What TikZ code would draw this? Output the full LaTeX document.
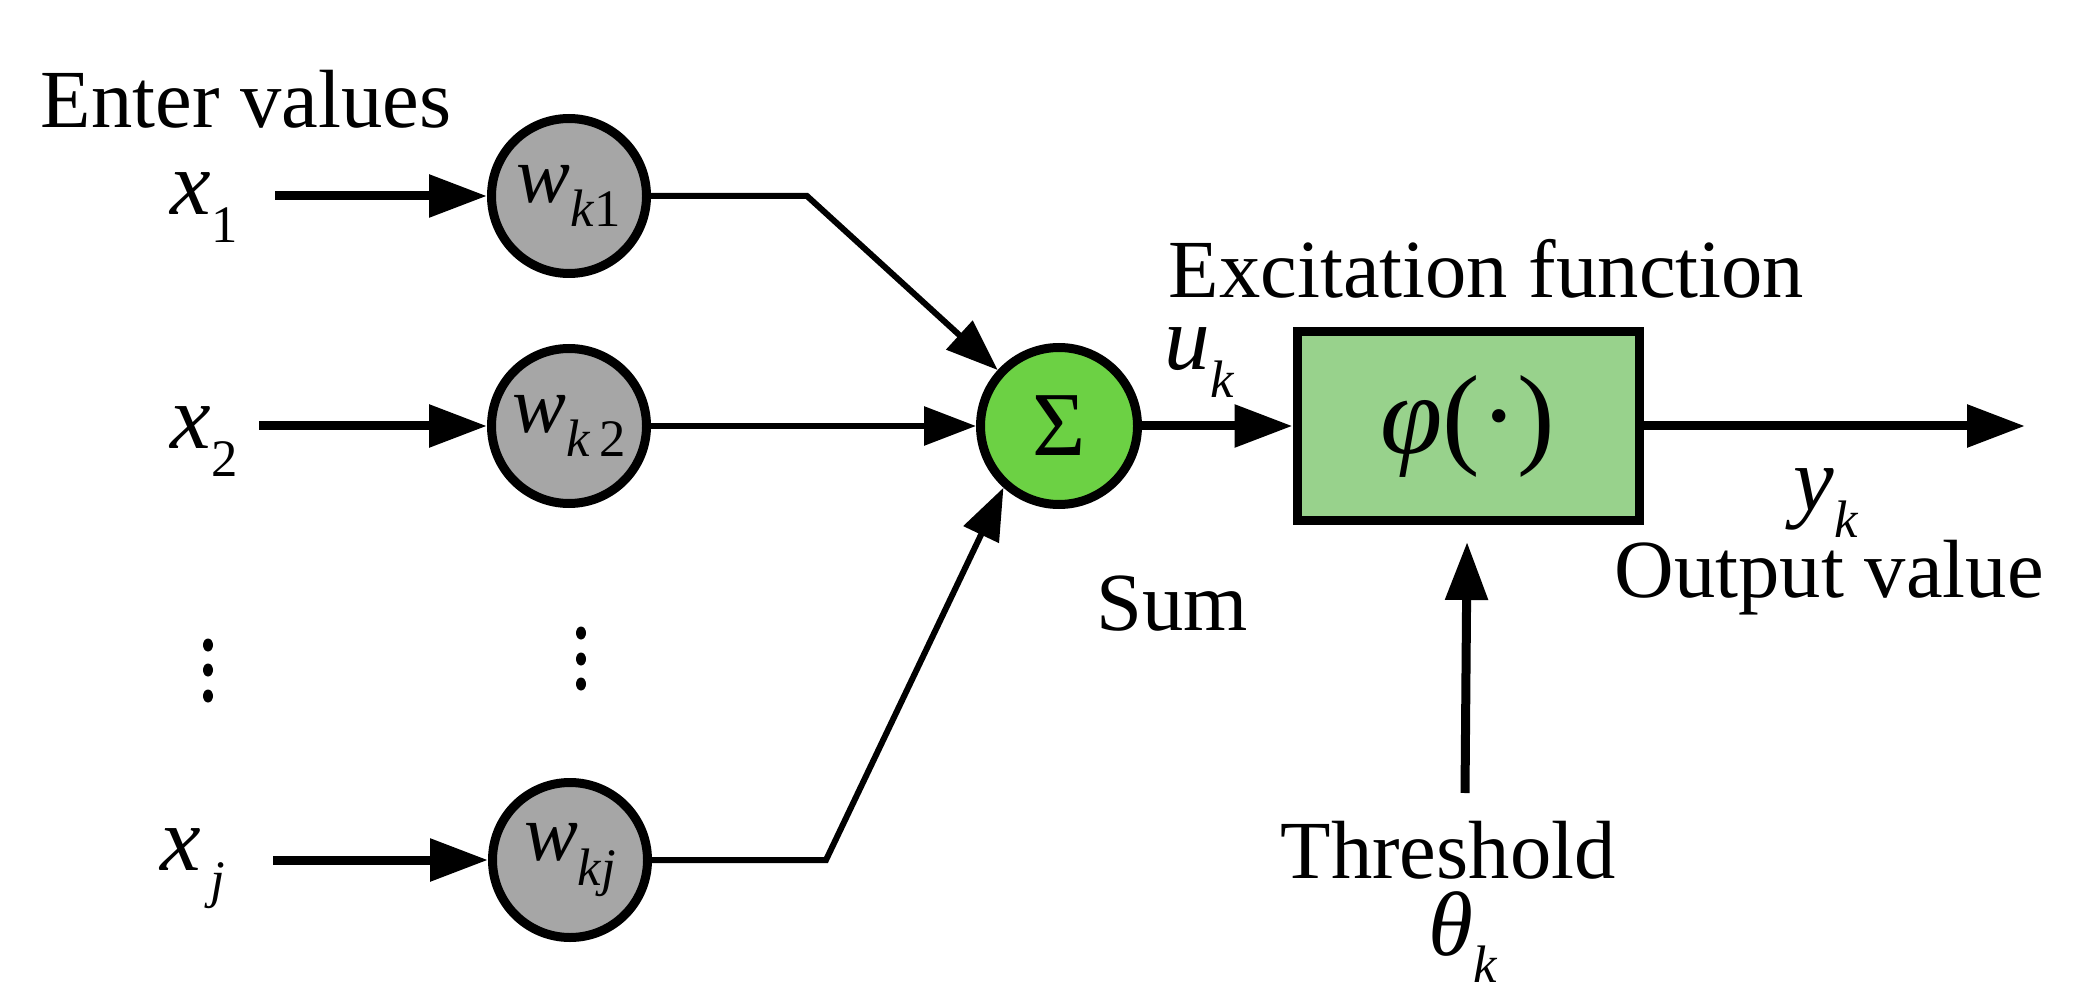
\documentclass[tikz,border=0pt]{standalone}
\usepackage{fontspec}
\setmainfont{Liberation Serif}
\usetikzlibrary{arrows.meta}
\definecolor{wgray}{HTML}{A6A6A6}
\definecolor{sumgreen}{HTML}{6CD144}
\definecolor{boxgreen}{HTML}{98D28C}
\newcommand{\isub}[2]{\textit{#1}\raisebox{-0.3em}{\fontsize{15}{15}\selectfont #2}}

\begin{document}
\begin{tikzpicture}[>={Triangle[length=0.58cm,width=0.41cm]},
	weight/.style={circle, draw, line width=0.09cm, fill=wgray, minimum size=1.55cm, inner sep=0pt, font=\fontsize{23}{26}\selectfont},
	summer/.style={circle, draw, line width=0.09cm, fill=sumgreen, minimum size=1.57cm, inner sep=0pt, font=\fontsize{26}{28}\selectfont},
	act/.style={rectangle, draw, line width=0.09cm, fill=boxgreen, minimum width=3.42cm, minimum height=1.89cm, font=\fontsize{32}{34}\selectfont},
	txt/.style={anchor=base west, inner sep=0pt, font=\fontsize{23.5}{28}\selectfont},
	lbl/.style={anchor=base west, inner sep=0pt, font=\fontsize{26}{28}\selectfont},
	arr/.style={->, line width=0.09cm},
	link/.style={-{Triangle[length=0.52cm,width=0.38cm]}, line width=0.06cm}]
\useasboundingbox (0,0) rectangle (20.73,-10.05);

% inputs
\node[txt] at (0.40,-1.28) (enter) {Enter values};
\node[lbl] at (1.70,-2.15) (x1) {\isub{x}{1}};
\node[lbl] at (1.70,-4.49) (x2) {\isub{x}{2}};
\node[lbl] at (1.60,-8.70) (xj) {\isub{x}{\,\textit{j}}};
\coordinate (in1) at (2.75,-1.96);
\coordinate (in2) at (2.59,-4.26);
\coordinate (inj) at (2.73,-8.60);

% weights
\node[weight] at (5.69,-1.96) (w1) {\isub{w}{\textit{k}1}};
\node[weight] at (5.69,-4.26) (w2) {\isub{w}{\textit{k}\,2}};
\node[weight] at (5.70,-8.60) (wj) {\isub{w}{\textit{kj}}};
\foreach \y in {6.45,6.70,6.96} \fill (2.08,-\y) ellipse (0.05 and 0.065);
\foreach \y in {6.33,6.59,6.84} \fill (5.81,-\y) ellipse (0.05 and 0.065);

% sum and activation
\node[summer] at (10.59,-4.26) (sum) {Σ};
\node[act] at (14.68,-4.26) (box) {\textit{φ}(·)};
\coordinate (out) at (20.25,-4.26);
\coordinate (thr) at (14.65,-7.93);

\node[txt] at (11.68,-2.98) (excit) {Excitation function};
\node[lbl] at (11.64,-3.70) (uk) {\isub{u}{\textit{k}}};
\node[txt] at (10.96,-6.30) (sumlbl) {Sum};
\node[lbl] at (17.93,-5.10) (yk) {\isub{y}{\textit{k}}};
\node[txt] at (16.14,-5.97) (outlbl) {Output value};
\node[txt] at (12.80,-8.78) (thrlbl) {Threshold};
\node[lbl] at (14.28,-9.55) (theta) {\isub{θ}{\textit{k}}};

\draw[arr] (in1) -- (w1);
\draw[arr] (in2) -- (w2);
\draw[arr] (inj) -- (wj);
\draw[link] (w1.east) -- ++(1.56,0) -- (sum);
\draw[link] (w2) -- (sum);
\draw[link] (wj.east) -- ++(1.74,0) -- (sum.228);
\draw[arr] (sum) -- (box);
\draw[arr] (box) -- (out);
\draw[arr, shorten >=0.17cm] (thr) -- (box);
\end{tikzpicture}
\end{document}
